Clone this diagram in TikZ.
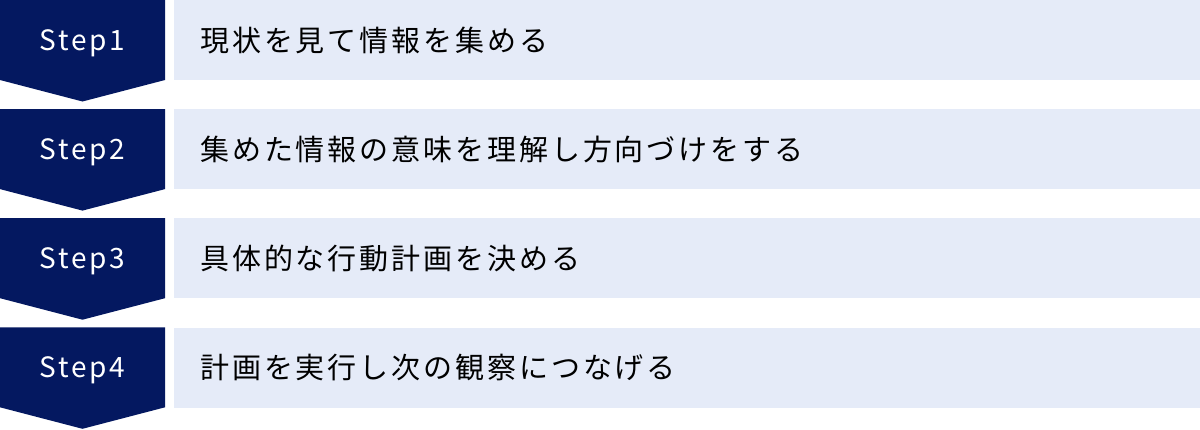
\documentclass[tikz,border=0pt]{standalone}
\usepackage{fontspec}
\setmainfont{Noto Sans CJK JP}
\newfontfamily\stepfont[LetterSpace=10]{Noto Sans CJK JP}
\newfontfamily\itemfont[LetterSpace=10]{Noto Sans CJK JP}
\usepackage{tikz}
\usetikzlibrary{positioning}
\definecolor{stepnavy}{RGB}{4,24,96}
\definecolor{itembg}{RGB}{229,235,248}

\begin{document}
\begin{tikzpicture}[x=1pt, y=1pt,
  stepshape/.style={fill=stepnavy},
  steptext/.style={text=white, font=\stepfont\fontsize{28}{34}\selectfont},
  itembox/.style={fill=itembg, minimum width=1026pt, minimum height=80pt,
    text width=974pt, inner xsep=26pt, align=left, anchor=north west,
    font=\itemfont\fontsize{29}{35}\selectfont}]
\useasboundingbox (0,0) rectangle (1200,-429);
% steps
\fill[stepshape] (0,0) -- (165,0) -- (165,-80) -- (82.5,-101.5) -- (0,-80) -- cycle;
\fill[stepshape] (0,-109.1) -- (165,-109.1) -- (165,-189.1) -- (82.5,-210.6) -- (0,-189.1) -- cycle;
\fill[stepshape] (0,-218.2) -- (165,-218.2) -- (165,-298.2) -- (82.5,-319.7) -- (0,-298.2) -- cycle;
\fill[stepshape] (0,-327.3) -- (165,-327.3) -- (165,-407.3) -- (82.5,-428.8) -- (0,-407.3) -- cycle;
\node[steptext] (s1) at (82.5,-43) {Step1};
\node[steptext] (s2) at (82.5,-152.1) {Step2};
\node[steptext] (s3) at (82.5,-261.2) {Step3};
\node[steptext] (s4) at (82.5,-370.3) {Step4};
% items
\node[itembox] (i1) at (174,0) {現状を見て情報を集める};
\node[itembox] (i2) at (174,-109.1) {集めた情報の意味を理解し方向づけをする};
\node[itembox] (i3) at (174,-218.2) {具体的な行動計画を決める};
\node[itembox] (i4) at (174,-327.3) {計画を実行し次の観察につなげる};
\end{tikzpicture}
\end{document}
